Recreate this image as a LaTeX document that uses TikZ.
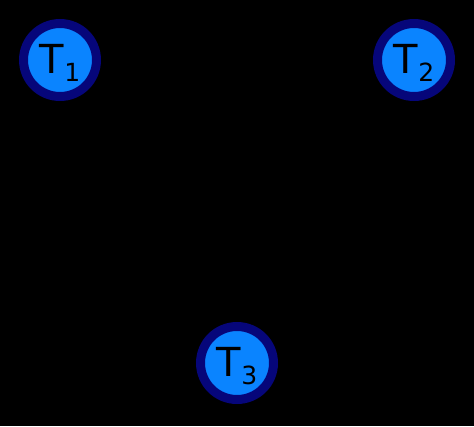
\documentclass[tikz,border=0pt]{standalone}
\usepackage{fontspec}
\setmainfont{DejaVu Sans}
\definecolor{taskfill}{HTML}{0A84FF}
\definecolor{taskline}{HTML}{06067A}
\tikzset{
  task/.style={circle, draw=taskline, fill=taskfill, line width=9pt,
    minimum size=73pt, inner sep=0pt, text height=34pt, text depth=8pt,
    font=\fontsize{40}{44}\selectfont}
}
\newcommand{\tsub}[1]{\raisebox{-8pt}{\fontsize{25}{25}\selectfont #1}}
\begin{document}
\begin{tikzpicture}[x=1pt, y=-1pt]
  \fill[black] (0,0) rectangle (474,426);
  \useasboundingbox (0,0) rectangle (474,426);

  \node[task] (t1) at (60,60) {T\tsub{1}};
  \node[task] (t2) at (414,60) {T\tsub{2}};
  \node[task] (t3) at (237,363) {T\tsub{3}};
\end{tikzpicture}
\end{document}
